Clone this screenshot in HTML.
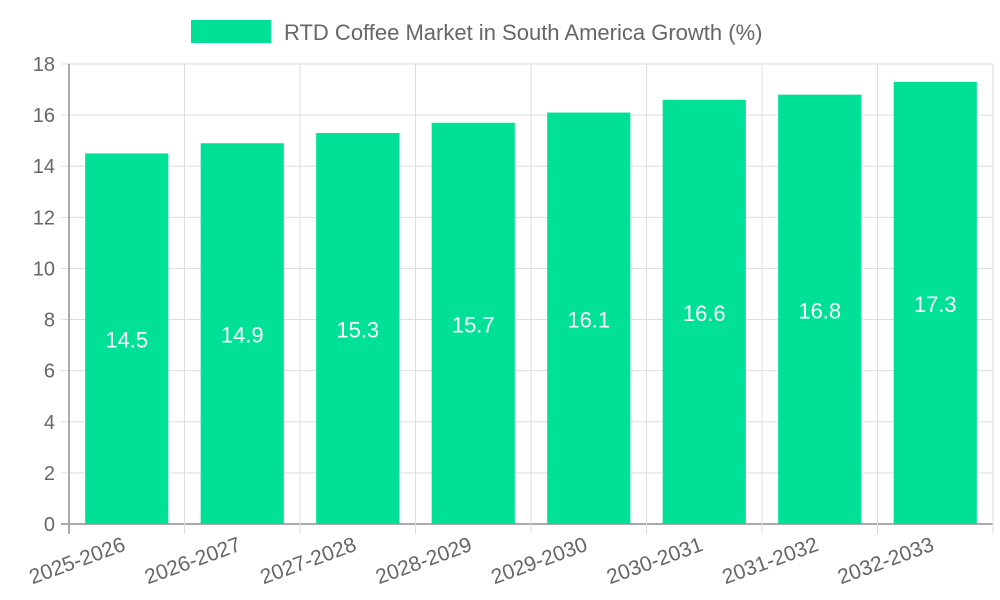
<!DOCTYPE html>
<html><head><meta charset="utf-8"><style>
html,body{margin:0;padding:0;background:#fff;}
svg{display:block;font-family:"Liberation Sans",sans-serif;}
</style></head><body>
<svg id="chart" width="1000" height="600">
<rect x="191" y="20" width="80" height="23" fill="#00e096"/>
<text x="284" y="40" font-size="22" fill="#666">RTD Coffee Market in South America Growth (%)</text>
<g id="grid"></g><g id="bars"></g><g id="labels"></g>
</svg>
<script>
const categories=["2025-2026","2026-2027","2027-2028","2028-2029","2029-2030","2030-2031","2031-2032","2032-2033"];
const values=[14.5,14.9,15.3,15.7,16.1,16.6,16.8,17.3];
const yTicks=[0,2,4,6,8,10,12,14,16,18];
const NS="http://www.w3.org/2000/svg";
const L=69,R=993,T=64,B=524,yMax=18;
const band=(R-L)/categories.length;
const y=v=>B-(v/yMax)*(B-T);
const xb=i=>L+i*band;
function mk(tag,attrs,parent,text){const e=document.createElementNS(NS,tag);for(const k in attrs)e.setAttribute(k,attrs[k]);if(text!==undefined)e.textContent=text;parent.appendChild(e);return e;}
const grid=document.getElementById('grid'),bars=document.getElementById('bars'),labels=document.getElementById('labels');
yTicks.forEach(t=>{
  const l=mk('line',{x1:L-8,x2:R,y1:y(t),y2:y(t),stroke:t===0?'#aaa':'#ddd','stroke-width':t===0?2:1},grid);
  
  
  const tx=mk('text',{x:L-14,y:y(t)+7,'text-anchor':'end','font-size':20,fill:'#666'},labels,String(t));
  
  
});
for(let i=0;i<=categories.length;i++){
  const l=mk('line',{x1:xb(i),x2:xb(i),y1:T,y2:B+10,stroke:i===0?'#aaa':'#ddd','stroke-width':i===0?2:1},grid);
  
  
}
categories.forEach((c,i)=>{
  const w=band*0.72,x=xb(i)+(band-w)/2,cx=xb(i)+band/2;
  const r=mk('rect',{x:x,y:y(values[i]),width:w,height:B-y(values[i]),fill:'#00e096'},bars);
  
  
  const v=mk('text',{x:cx,y:(y(values[i])+B)/2+9,'text-anchor':'middle','font-size':22,fill:'#fff'},labels,String(values[i]));
  
  
  const t=mk('text',{x:cx,y:B+26,'text-anchor':'end','font-size':21,fill:'#666',transform:`rotate(-20 ${cx} ${B+26})`},labels,c);
  
  
});
</script>
</body></html>
